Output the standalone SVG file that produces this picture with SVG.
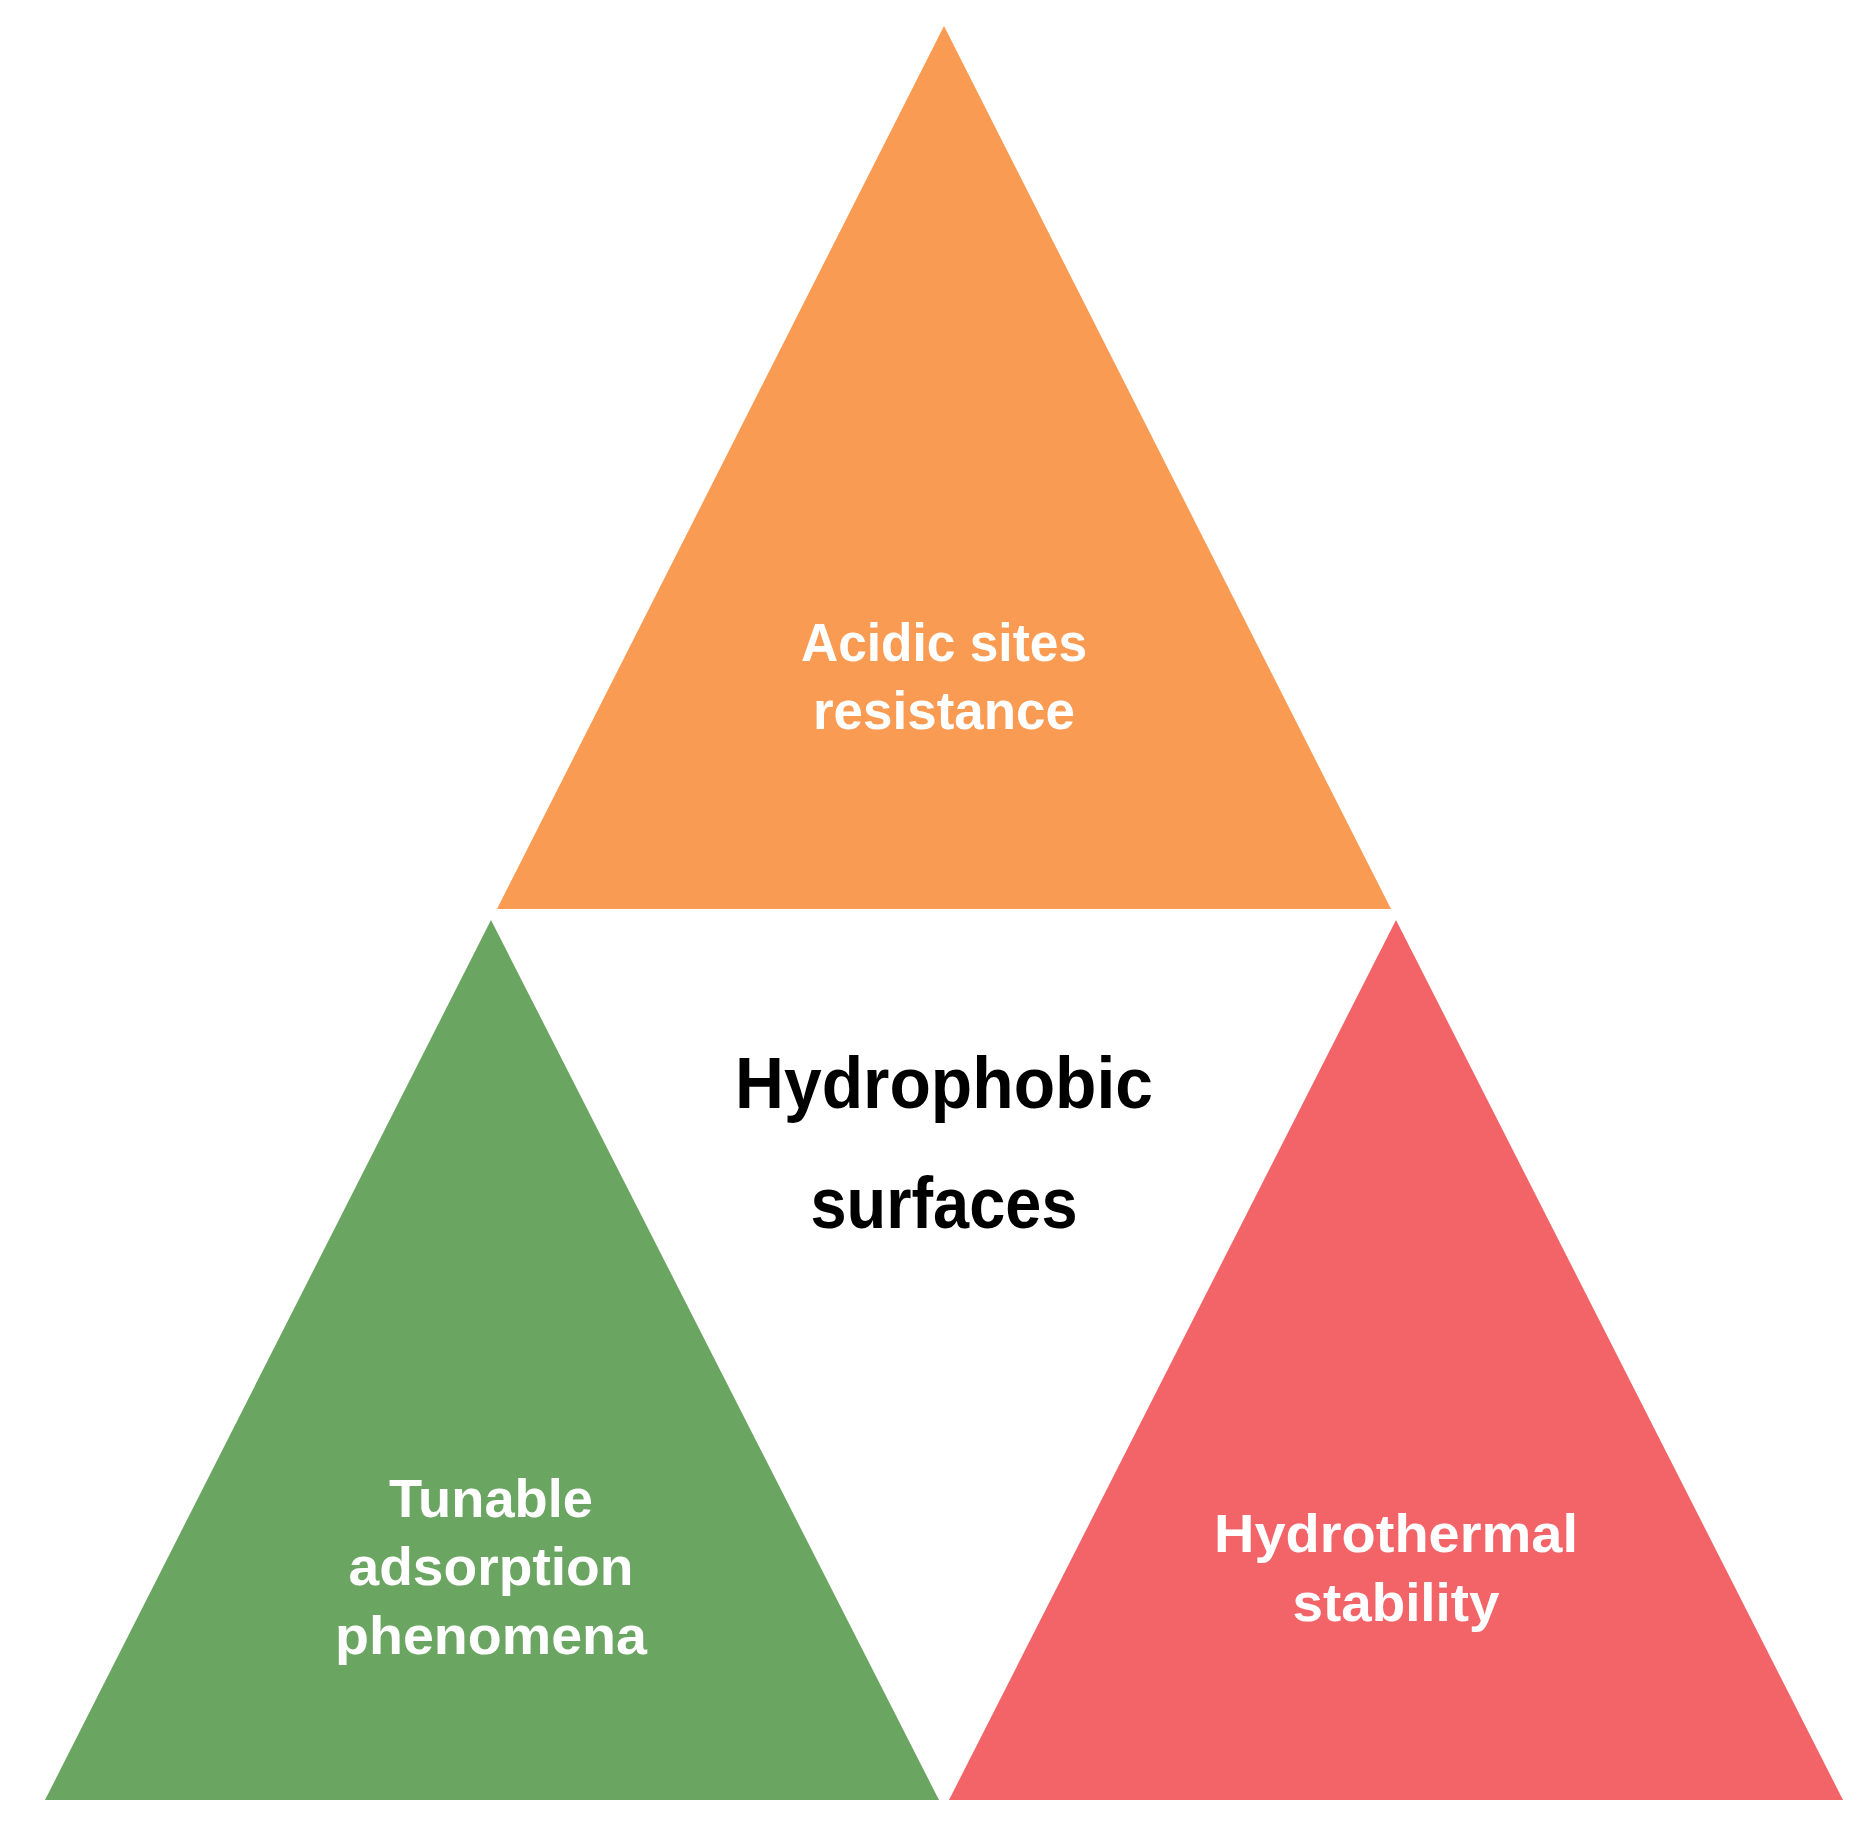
<svg xmlns="http://www.w3.org/2000/svg" width="1859" height="1822" viewBox="0 0 1859 1822">
<style>
.l{font-family:"Liberation Sans",Arial,sans-serif;font-weight:bold;font-size:54px;fill:#fff;text-anchor:middle}
.c{font-family:"Liberation Sans",Arial,sans-serif;font-weight:bold;font-size:72px;fill:#000;text-anchor:middle}
</style>
<rect width="1859" height="1822" fill="#fff"/>
<g id="top"><polygon points="944,26 1391,909 497,909" fill="#F99B52"/>
<text class="l" x="944" y="661" textLength="286" lengthAdjust="spacingAndGlyphs">Acidic sites</text>
<text class="l" x="944" y="729" textLength="262" lengthAdjust="spacingAndGlyphs">resistance</text></g>
<g id="left"><polygon points="491,920 939,1800 45,1800" fill="#6BA562"/>
<text class="l" x="491" y="1517" textLength="204" lengthAdjust="spacingAndGlyphs">Tunable</text>
<text class="l" x="491" y="1585" textLength="285" lengthAdjust="spacingAndGlyphs">adsorption</text>
<text class="l" x="491" y="1654" textLength="312" lengthAdjust="spacingAndGlyphs">phenomena</text></g>
<g id="right"><polygon points="1396,920 1843,1800 949,1800" fill="#F26468"/>
<text class="l" x="1396" y="1552" textLength="364" lengthAdjust="spacingAndGlyphs">Hydrothermal</text>
<text class="l" x="1396" y="1621" textLength="207" lengthAdjust="spacingAndGlyphs">stability</text></g>
<g id="center">
<text class="c" x="944" y="1108" textLength="418" lengthAdjust="spacingAndGlyphs">Hydrophobic</text>
<text class="c" x="944" y="1228" textLength="267" lengthAdjust="spacingAndGlyphs">surfaces</text></g>
<g id="connectors"/>
</svg>
